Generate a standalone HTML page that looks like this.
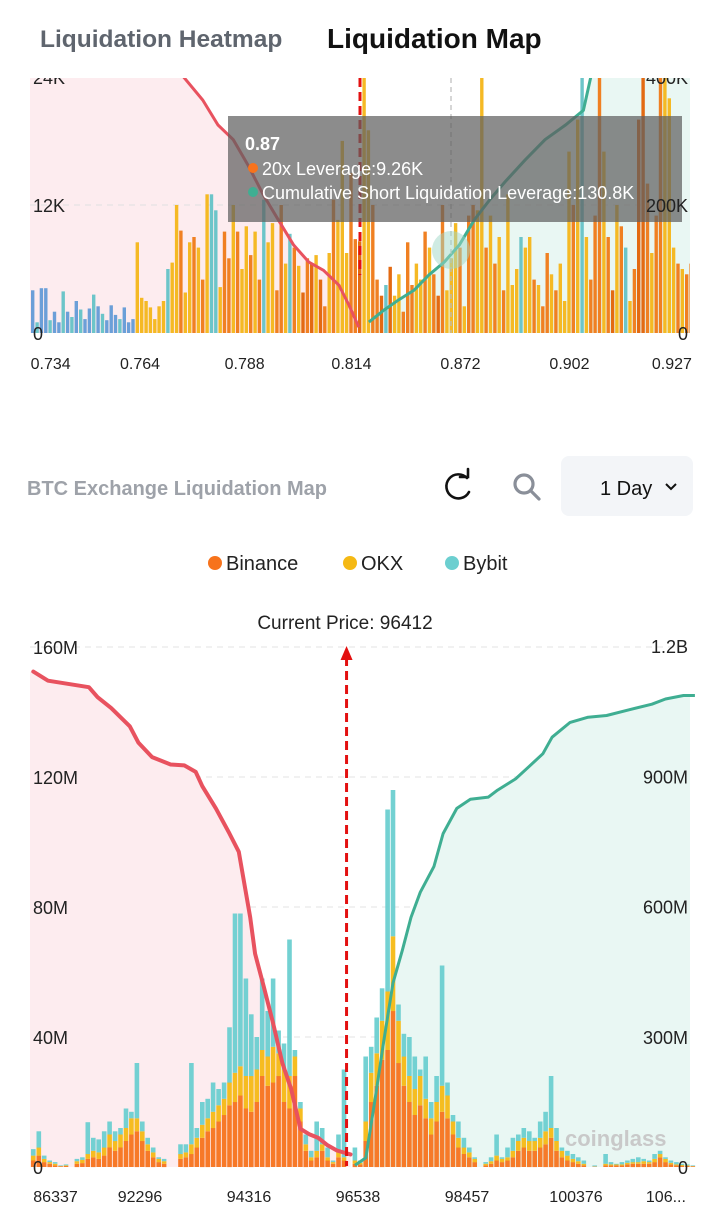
<!DOCTYPE html>
<html><head><meta charset="utf-8">
<style>
html,body{margin:0;padding:0;background:#fff;}
body{width:708px;height:1216px;overflow:hidden;font-family:"Liberation Sans",sans-serif;}
svg text{font-family:"Liberation Sans",sans-serif;}
</style></head>
<body>
<svg id="chart" width="708" height="1216" viewBox="0 0 708 1216" xmlns="http://www.w3.org/2000/svg">
  <defs>
    <clipPath id="topClip"><rect x="30" y="78" width="660" height="256"/></clipPath>
  </defs>
  <g id="topChart" clip-path="url(#topClip)"></g>
  <g id="topAxes"></g>
  <g id="botChart"></g>

  <rect x="0" y="0" width="708" height="78" fill="#fff"/>
  <text x="40" y="47" font-size="24.5" font-weight="bold" fill="#5f656e">Liquidation Heatmap</text>
  <text x="327" y="48" font-size="28" font-weight="bold" fill="#111">Liquidation Map</text>

  <text x="27" y="495" font-size="20" font-weight="bold" fill="#9ea2a9">BTC Exchange Liquidation Map</text>
  <g fill="none" stroke="#111" stroke-width="2.6" stroke-linecap="round">
    <path d="M467 478 A12 12 0 1 0 469 492"/>
    <path d="M460 477 L468 477 L468 469"/>
  </g>
  <g fill="none" stroke="#8a8f99" stroke-width="3.2" stroke-linecap="round">
    <circle cx="524" cy="484" r="9"/>
    <path d="M531 491 L539 499"/>
  </g>
  <rect x="561" y="456" width="132" height="60" rx="8" fill="#f3f5f8"/>
  <text x="600" y="495" font-size="20" fill="#111">1 Day</text>
  <path d="M666 484 L671 489 L676 484" fill="none" stroke="#111" stroke-width="2"/>

  <g>
    <circle cx="215" cy="563" r="7" fill="#f7731c"/>
    <text x="226" y="570" font-size="20" fill="#222">Binance</text>
    <circle cx="350" cy="563" r="7" fill="#f5b914"/>
    <text x="361" y="570" font-size="20" fill="#222">OKX</text>
    <circle cx="452" cy="563" r="7" fill="#6ccfd0"/>
    <text x="463" y="570" font-size="20" fill="#222">Bybit</text>
  </g>
  <text x="345" y="629" font-size="19" fill="#222" text-anchor="middle">Current Price: 96412</text>
</svg>
<script>
// ---------- bottom chart data (M USD) ----------
const binance = [2,3.5,1.5,1,.5,.2,.3,0,1,1.2,2.5,3,2.5,3.5,6,5,6,8,10,11,8,5,3,1.5,1,0,0,2.5,3,4,6,9,11,12,14,16,19,20,22,18,17,20,28,25,26,28,20,18,28,14,5,2,3,5,2,1,3,2,0,1,.8,8,20,25,33,36,48,32,25,20,16,19,15,10,14,17,15,10,6,4,3,1.5,0,.5,1,2,1.5,2,3,5,6,5,5,6,7,9,5,3,2,1.5,1,.5,0,.1,0,.5,.5,.5,.5,.8,1,1,1,1,1.5,3,1.5,.8,.5,.3,.3,.2];
const okx =     [1.5,2.5,1,.5,.5,.1,.2,0,.8,1,1.5,2,2,2.5,4,3,4,4,5,4,3,2,1.5,1,.8,0,0,1.5,1.5,3,3,4,4,5,5,5,7,9,9,10,11,10,8,9,11,7,10,10,6,4,2,1,2,2,1,.5,2,1,0,1,.5,6,9,10,12,18,23,13,9,8,8,9,6,5,6,8,7,4,3,2,1.5,1,0,.5,.8,1.5,1,1,2,3,3,3,3,3,4,3,3,2,1.5,1,.8,.5,0,.1,0,.5,.3,.3,.3,.5,.5,.5,.8,.5,1,1,1,.5,.3,.3,.2,.1];
const bybit =   [2,5,1,.5,.5,.2,.3,0,.7,.8,9.8,4,4,5,4,3,2,6,2,17,3,2,1.5,.5,.7,0,0,3,2.5,25,3,7,6,9,5,5,17,49,47,30,19,10,22,14,21,7,8,42,2,2,3,2,9,5,3,.5,5,27,0,4,.7,20,8,11,10,56,45,5,7,12,10,2,13,5,8,37,4,2,5,3,1.5,.5,0,.5,1.2,6.5,.5,3,4,2,3,3,1,5,6,16,4,1,1.5,1.5,1.2,1,0,.3,0,3,.7,.2,.7,.7,1,1.5,.7,.5,1.5,1,.5,.7,.7,.4,.3,.2];
const longCumIdx = [0,2.7,10.2,11.8,14.3,17.7,19.3,21.8,25.2,27.7,29.8,31,33.5,36,37.7,39.8,40.7,42.3,44,45.7,47.3,49,50.7,52.3,54,55.7,58.2];
const longCumVal = [1141,1120,1105,1082,1057,1015,977,944,927,925,910,877,826,768,726,575,491,415,331,239,180,88,75,67,50,38,29];
const shortCumIdx = [59,61,62.7,64.3,66,67.7,69.3,71,73.5,75.2,77.7,80.2,83.5,85.2,88.5,91,93.5,95.2,98.5,101.8,105.2,109.3,113.5,116,119.3,121.4];
const shortCumVal = [4,21,155,289,424,499,575,633,692,768,826,847,852,868,894,923,952,990,1024,1036,1040,1053,1066,1078,1086,1086];
const leftTicks = ["0","40M","80M","120M","160M"];
const leftTickVals = [0,40,80,120,160];
const rightTicks = ["0","300M","600M","900M","1.2B"];
const rightTickVals = [0,300,600,900,1200];
const xTickLabels = ["86337","92296","94316","96538","98457","100376","106..."];
const xTickIdx = [4.5,20,40,60,80,100,116.5];
const currentPriceIdx = 57.9;

// ---------- top chart data (K) ----------
const topVals = [4,1,4.2,4.2,1.2,2,1,3.9,2,1.5,3,2.2,1.3,2.3,3.6,2.5,1.8,1.2,2.6,1.7,1.3,2.4,1,1.3,
 8.5,3.3,3,2.4,1.3,2.5,3,6,6.6,12,9.6,3.8,8.5,9,8,5,13,
 13,11.5,4.3,9.5,7,12,9.5,6,10,7.3,9.5,5,12.5,8.5,10.3,4,12,6.5,9.3,8,
 6.3,3.8,7,6.5,7.3,5,2.5,7.5,12.5,10.6,18,7.5,15,8.8,8.6,26,19,12,5,3.5,
 4.5,6.2,3.5,5.5,2,8.5,4.5,6.5,5,9.5,8,5.5,3.5,12,4,7,10.3,8,2.5,11,
 12,11.5,26,8,11,6.5,9,4,13,4.5,6,9,8,9,5,4.5,2.5,7.5,5.5,4,
 6.5,3,17,12,20,26,9,5,11,26,17,9,4,12,10,8,3,6,20,26,14,7.5,11,26,26,22,8,6.5,6,5.5,6.5];
const topColorKeys = "btbbtbbtbtbtbbtbtbbbtbbb" + "yyyyyyytyyoyyoyoyttyooyoyyoyotyyooytoydodydoyoyyyoodyyoodtdyyoooyyoyodoyyyoyooyyoyoyoyyytyyoyooyoyyyoytyoooyodyotyoddoyooyyyoyo";
const topRedIdx = [34.6,39,42.5,46,49.4,52.9,56.3,59.8,63.3,66.7,70.2,72.5,74.8];
const topRedVal = [400,364,325,302,262,216,177,138,111,98,75,44,9];
const topGreenIdx = [77.1,80.6,84,87.5,90.9,94.4,97.9,101.3,104.8,108.3,112.9,117.5,122.2,126.3,128];
const topGreenVal = [17,36,52,67,91,111,138,177,208,236,270,302,325,348,400];
const topXLabels = ["0.734","0.764","0.788","0.814","0.872","0.902","0.927"];
const topXPos = [4.5,25,49,73.5,98.5,123.5,147];

const NS = "http://www.w3.org/2000/svg";
function mk(tag, attrs, parent){ const e=document.createElementNS(NS,tag); for(const k in attrs) e.setAttribute(k,attrs[k]); parent.appendChild(e); return e; }
function linePath(idx,val,xf,yf){ return idx.map((d,k)=>(k?'L':'M')+(xf(d)).toFixed(1)+' '+yf(val[k]).toFixed(1)).join(' '); }

// ---------- bottom ----------
const bot = document.getElementById('botChart');
const bx = i => 31 + i*5.45;
const byL = v => 1167 - v*3.25;
const byR = v => 1167 - v*(521/1200);
leftTickVals.forEach((v,k)=>{
  if(k>0){ const g=mk('line',{x1:30,x2:690,y1:byL(v),y2:byL(v),stroke:'#e3e3e3','stroke-dasharray':'6 5'},bot);
  
   }
});
const lc = i => bx(i)+2.3;
let ap = mk('path',{d:'M30 '+byR(0)+' L30 '+byR(longCumVal[0])+' '+linePath(longCumIdx,longCumVal,lc,byR).replace('M','L')+' L'+lc(longCumIdx[longCumIdx.length-1])+' '+byR(0)+' Z',fill:'#fdecef'},bot);


ap = mk('path',{d:'M'+lc(shortCumIdx[0])+' '+byR(0)+' '+linePath(shortCumIdx,shortCumVal,lc,byR).replace('M','L')+' L690 '+byR(shortCumVal[shortCumVal.length-1])+' L690 '+byR(0)+' Z',fill:'#e9f7f3'},bot);


for(let i=0;i<binance.length;i++){
  const x=bx(i), w=4.6;
  let base=0;
  [[binance[i],'#f7731c','bar-binance'],[okx[i],'#f5b914','bar-okx'],[bybit[i],'#6ccfd0','bar-bybit']].forEach(s=>{
    if(s[0]<=0) return;
    const r=mk('rect',{x:x.toFixed(1),y:byL(base+s[0]).toFixed(1),width:w,height:(s[0]*3.25).toFixed(1),fill:s[1],opacity:0.95},bot);
    
    
    base+=s[0];
  });
}
let ln = mk('path',{d:linePath(longCumIdx,longCumVal,lc,byR),fill:'none',stroke:'#e8525f','stroke-width':4,'stroke-linejoin':'round','stroke-linecap':'round'},bot);


ln = mk('path',{d:linePath(shortCumIdx,shortCumVal,lc,byR),fill:'none',stroke:'#3fae92','stroke-width':3,'stroke-linejoin':'round'},bot);


const cpx = bx(currentPriceIdx);
ln = mk('line',{x1:cpx,x2:cpx,y1:657,y2:1166,stroke:'#e31010','stroke-width':3,'stroke-dasharray':'9 5'},bot);


ln = mk('path',{d:`M${cpx-6} 660 L${cpx} 646 L${cpx+6} 660 Z`,fill:'#e31010'},bot);


let t = mk('text',{x:565,y:1146,'font-size':22,'font-weight':'bold',fill:'#c9c9c9'},bot); t.textContent='coinglass';


leftTicks.forEach((s,k)=>{ const e=mk('text',{x:33,y:byL(leftTickVals[k])+7,'font-size':18,fill:'#222'},bot); e.textContent=s;
  
   });
rightTicks.forEach((s,k)=>{ const e=mk('text',{x:688,y:byR(rightTickVals[k])+7,'font-size':18,fill:'#222','text-anchor':'end'},bot); e.textContent=s;
  
   });
xTickLabels.forEach((s,k)=>{ const e=mk('text',{x:bx(xTickIdx[k]),y:1202,'font-size':16,fill:'#222','text-anchor':'middle'},bot); e.textContent=s;
  
   });

// ---------- top ----------
const topG = document.getElementById('topChart');
const tx = i => 31 + i*4.36;
const tyL = v => 333 - v*10.67;
const tyR = v => 333 - v*0.64;
const tc = i => tx(i)+1.7;
let tp = mk('path',{d:'M30 333 L30 78 L'+tc(topRedIdx[0])+' 78 '+linePath(topRedIdx,topRedVal,tc,tyR).replace('M','L')+' L'+tc(topRedIdx[topRedIdx.length-1])+' 333 Z',fill:'#fdecef'},topG);


tp = mk('path',{d:'M'+tc(topGreenIdx[0])+' 333 '+linePath(topGreenIdx,topGreenVal,tc,tyR).replace('M','L')+' L690 78 L690 333 Z',fill:'#e9f7f3'},topG);


tp = mk('line',{x1:30,x2:690,y1:tyL(12),y2:tyL(12),stroke:'#e0e0e0','stroke-dasharray':'6 5'},topG);


const colMap = {b:'#6b9fd8',t:'#6cc5c9',y:'#f5b924',o:'#f08022',d:'#e36a12'};
for(let i=0;i<topVals.length;i++){
  const key = topColorKeys[i] || 'o';
  const r=mk('rect',{x:tx(i).toFixed(1),y:tyL(topVals[i]).toFixed(1),width:3.4,height:(topVals[i]*10.67).toFixed(1),fill:colMap[key]},topG);
  
  
}
tp = mk('path',{d:linePath(topRedIdx,topRedVal,tc,tyR),fill:'none',stroke:'#e8525f','stroke-width':3},topG);


tp = mk('path',{d:linePath(topGreenIdx,topGreenVal,tc,tyR),fill:'none',stroke:'#3fae92','stroke-width':3},topG);


tp = mk('line',{x1:360,x2:360,y1:78,y2:275,stroke:'#e31010','stroke-width':3,'stroke-dasharray':'9 5'},topG);


tp = mk('line',{x1:451,x2:451,y1:78,y2:333,stroke:'#bbb','stroke-width':1.2,'stroke-dasharray':'5 4'},topG);


tp = mk('circle',{cx:451,cy:250,r:19,fill:'#9fd8c8',opacity:0.5},topG);


const ta = document.getElementById('topAxes');
tp = mk('rect',{x:228,y:116,width:454,height:106,fill:'rgba(95,95,95,0.72)'},ta);


t=mk('text',{x:245,y:150,'font-size':18,'font-weight':'bold',fill:'#fff'},ta); t.textContent='0.87';


tp=mk('circle',{cx:253,cy:168,r:5,fill:'#f7731c'},ta);


t=mk('text',{x:262,y:175,'font-size':18,fill:'#fff'},ta); t.textContent='20x Leverage:9.26K';


tp=mk('circle',{cx:253,cy:192,r:5,fill:'#3fae92'},ta);


t=mk('text',{x:262,y:199,'font-size':18,fill:'#fff'},ta); t.textContent='Cumulative Short Liquidation Leverage:130.8K';


[["24K",24],["12K",12],["0",0]].forEach(a=>{const e=mk('text',{x:33,y:tyL(a[1])+7,'font-size':18,fill:'#222'},ta); e.textContent=a[0];
  
  });
[["400K",400],["200K",200],["0",0]].forEach(a=>{const e=mk('text',{x:688,y:tyR(a[1])+7,'font-size':18,fill:'#222','text-anchor':'end'},ta); e.textContent=a[0];
  
  });
topXLabels.forEach((s,k)=>{const e=mk('text',{x:tx(topXPos[k]),y:369,'font-size':16,fill:'#222','text-anchor':'middle'},ta); e.textContent=s;
  
  });
</script>
</body></html>
